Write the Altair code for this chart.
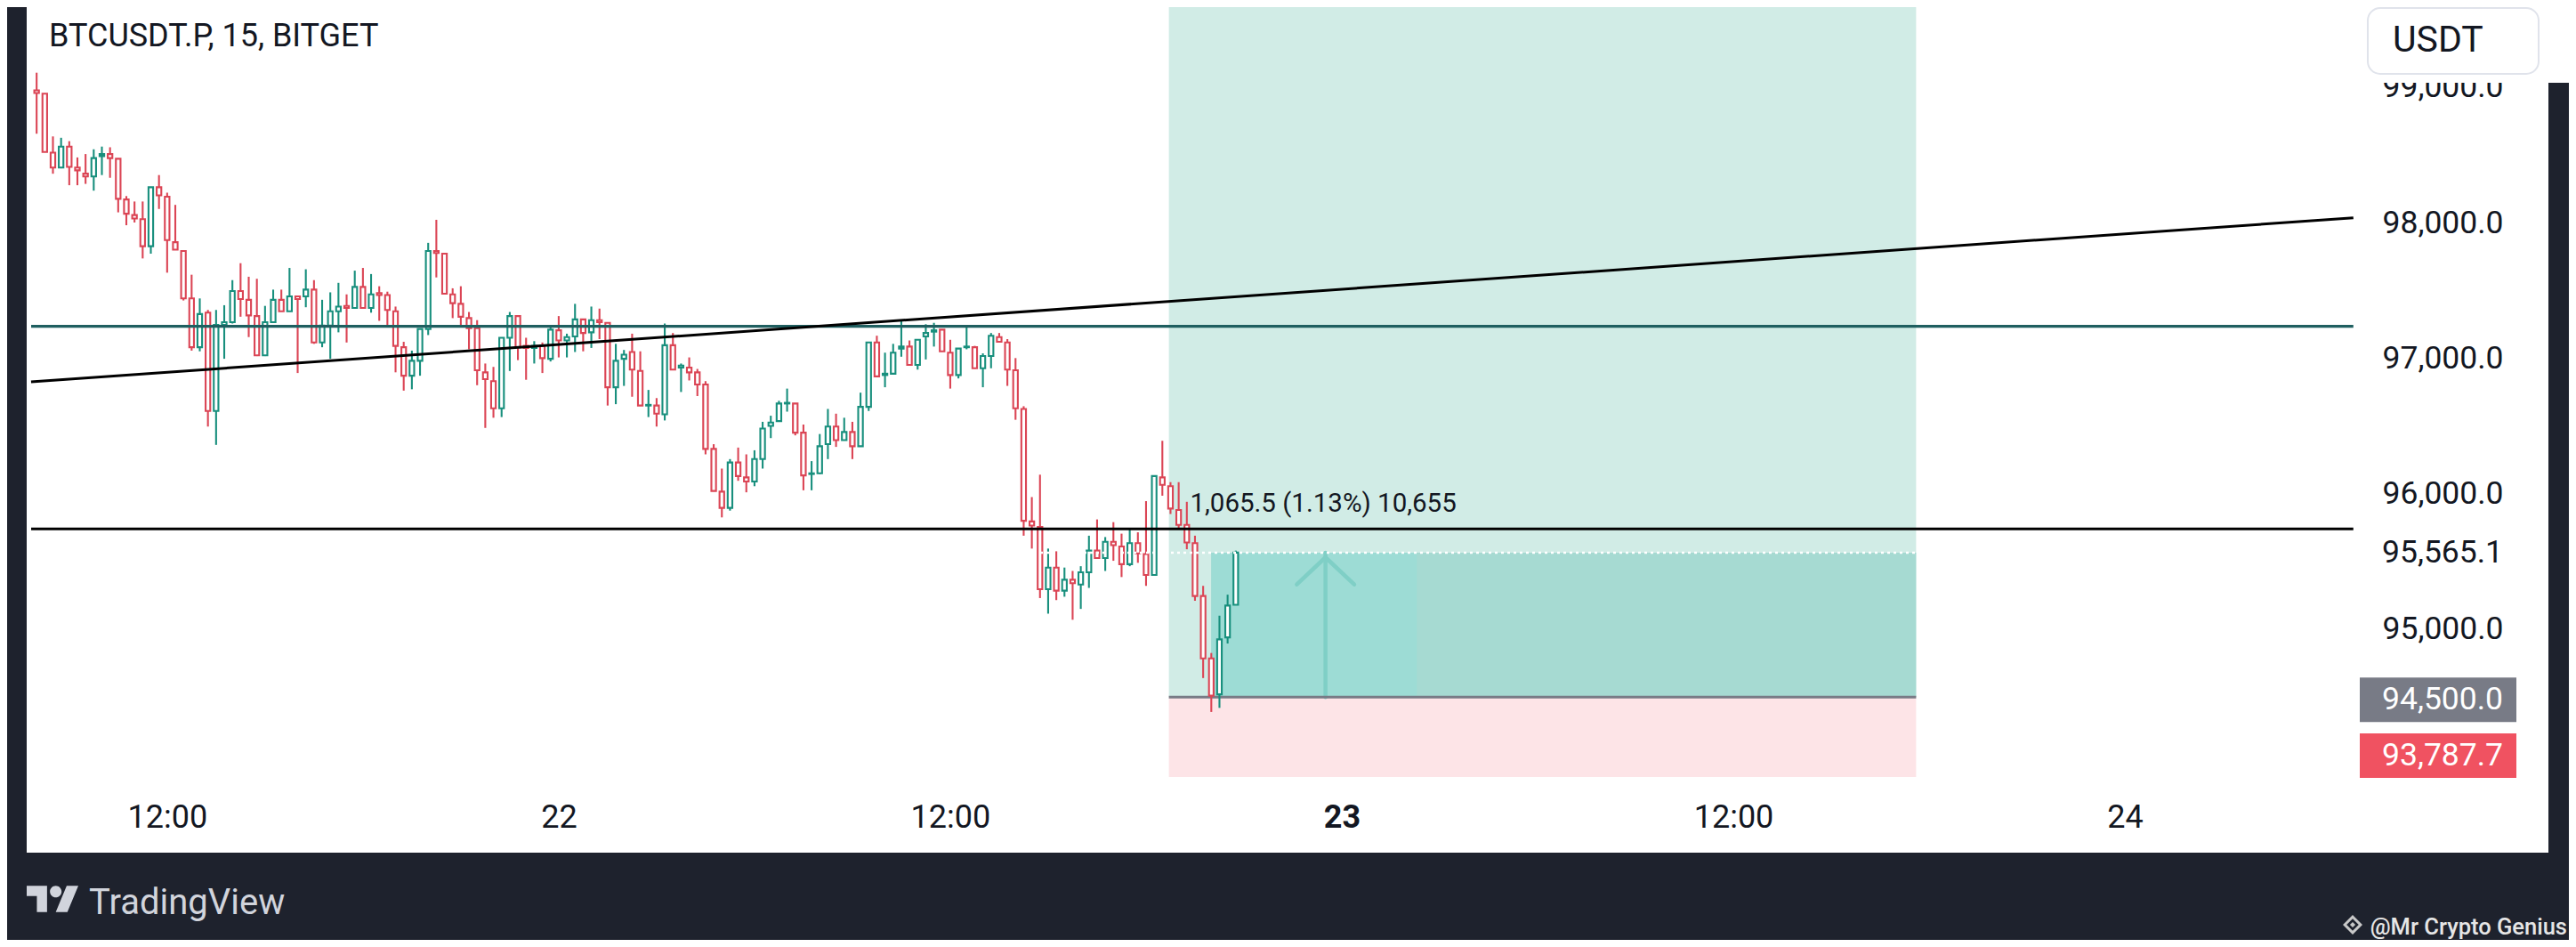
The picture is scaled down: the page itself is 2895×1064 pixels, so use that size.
import altair as alt
import pandas as pd

# ---------------- data ----------------
symbol_title = "BTCUSDT.P, 15, BITGET"
currency_label = "USDT"

# 15-minute candles (OHLC), first bar = 21 Feb 08:00, hours are relative to 22 Feb 00:00
opens = [98975, 98950, 98515, 98405, 98560, 98405, 98360, 98340, 98490, 98505,
         98470, 98170, 98055, 98025, 97825, 98260, 98190, 97855, 97790, 97440,
         97080, 97335, 96610, 97245, 97265, 97495, 97430, 97310, 97020, 97265,
         97430, 97345, 97455, 97455, 97505, 97115, 97240, 97345, 97385, 97370,
         97525, 97370, 97480, 97465, 97345, 97080, 96870, 96980, 97215, 97790,
         97770, 97470, 97400, 97295, 97220, 96895, 96830, 96630, 97150, 97310,
         97090, 97075, 97090, 96995, 97205, 97130, 97160, 97285, 97190, 97280,
         97260, 96785, 96995, 97045, 96905, 96650, 96650, 96585, 97095, 96930,
         96930, 96895, 96805, 96330, 96015, 95895, 96230, 96120, 96090, 96255,
         96500, 96535, 96665, 96665, 96450, 96145, 96150, 96365, 96495, 96395,
         96455, 96350, 96640, 97115, 96875, 96885, 97070, 97085, 96950, 97160,
         97195, 97210, 97040, 96875, 97080, 97080, 96925, 97015, 97155, 97115,
         96910, 96625, 95795, 95755, 95295, 95455, 95285, 95365, 95330, 95420,
         95580, 95525, 95645, 95610, 95480, 95635, 95555, 95400, 96120, 96055,
         95880, 95770, 95635, 95245, 94785, 94520, 94940, 95180]
highs = [99105, 98950, 98635, 98625, 98600, 98480, 98505, 98540, 98560, 98555,
         98470, 98195, 98155, 98155, 98260, 98350, 98220, 98130, 97790, 97615,
         97440, 97355, 97355, 97390, 97575, 97700, 97600, 97585, 97385, 97505,
         97505, 97665, 97455, 97655, 97575, 97430, 97485, 97555, 97470, 97645,
         97665, 97620, 97530, 97490, 97380, 97120, 97055, 97215, 97850, 98020,
         97770, 97515, 97530, 97340, 97280, 96960, 96935, 97150, 97340, 97310,
         97150, 97125, 97115, 97245, 97310, 97180, 97400, 97290, 97380, 97365,
         97260, 97105, 97060, 97180, 97050, 96765, 96705, 97255, 97185, 96960,
         97005, 96920, 96830, 96365, 96185, 96255, 96340, 96290, 96320, 96530,
         96575, 96685, 96775, 96665, 96510, 96240, 96440, 96625, 96590, 96560,
         96530, 96745, 97115, 97165, 97040, 97105, 97275, 97130, 97135, 97250,
         97260, 97210, 97135, 97070, 97235, 97090, 97035, 97185, 97185, 97140,
         97000, 96645, 95975, 96140, 95595, 95575, 95455, 95430, 95465, 95690,
         95810, 95680, 95790, 95705, 95735, 95715, 95945, 96130, 96390, 96085,
         96085, 95940, 95690, 95320, 94825, 95100, 95255, 95580]
lows = [98655, 98520, 98360, 98400, 98275, 98275, 98285, 98235, 98350, 98330,
        98075, 97980, 98000, 97735, 97770, 98100, 97630, 97800, 97425, 97055,
        97050, 96495, 96360, 96995, 97255, 97305, 97155, 97015, 97015, 97265,
        97345, 97345, 96890, 97375, 97105, 97080, 96995, 97190, 97115, 97370,
        97370, 97335, 97275, 97235, 96895, 96760, 96770, 96870, 97170, 97595,
        97475, 97295, 97235, 97065, 96800, 96485, 96560, 96565, 96905, 96985,
        96840, 96960, 96890, 96975, 97005, 97005, 97045, 97050, 97075, 97140,
        96650, 96660, 96795, 96715, 96650, 96565, 96495, 96540, 96915, 96750,
        96835, 96720, 96290, 96020, 95825, 95875, 96095, 96010, 96055, 96185,
        96410, 96535, 96605, 96430, 96025, 96025, 96145, 96255, 96345, 96395,
        96255, 96350, 96610, 96865, 96785, 96885, 97010, 96950, 96915, 96990,
        97085, 97050, 96775, 96850, 97065, 96925, 96785, 96925, 97115, 96795,
        96545, 95690, 95595, 95230, 95115, 95215, 95240, 95070, 95150, 95305,
        95525, 95430, 95505, 95385, 95465, 95490, 95320, 95400, 95985, 95850,
        95745, 95590, 95210, 94640, 94390, 94420, 94895, 95180]
closes = [98955, 98520, 98405, 98560, 98410, 98385, 98340, 98475, 98505, 98475,
          98175, 98065, 98030, 97825, 98260, 98200, 97870, 97800, 97440, 97080,
          97325, 96610, 97245, 97265, 97495, 97435, 97315, 97020, 97265, 97430,
          97345, 97455, 97435, 97505, 97115, 97240, 97345, 97380, 97370, 97525,
          97370, 97470, 97465, 97355, 97090, 96870, 96980, 97215, 97790, 97775,
          97475, 97405, 97305, 97220, 96910, 96845, 96630, 97150, 97310, 97080,
          97075, 97090, 97000, 97210, 97130, 97155, 97285, 97185, 97280, 97265,
          96785, 96980, 97025, 96915, 96650, 96655, 96590, 97095, 96915, 96945,
          96895, 96805, 96330, 96020, 95895, 96230, 96130, 96090, 96255, 96480,
          96525, 96665, 96670, 96450, 96135, 96150, 96350, 96495, 96395, 96455,
          96350, 96640, 97115, 96865, 96885, 97040, 97085, 96950, 97135, 97185,
          97205, 97050, 96875, 97070, 97085, 96925, 97015, 97165, 97120, 96915,
          96630, 95800, 95765, 95295, 95455, 95285, 95365, 95340, 95420, 95580,
          95525, 95645, 95620, 95480, 95635, 95560, 95400, 96130, 96065, 95890,
          95770, 95640, 95245, 94785, 94510, 94925, 95175, 95565.1]
first_bar_hour = -16.0
bar_step_hours = 0.25
bar_hours = [first_bar_hour + bar_step_hours * i for i in range(len(opens))]

# time axis ticks (hours relative to 22 Feb 00:00)
xtick_hours = [-12, 0, 12, 24, 36, 48]
xtick_labels = ["12:00", "22", "12:00", "23", "12:00", "24"]
bold_tick_hour = 24
ytick_prices = [95000, 96000, 97000, 98000, 99000]

# drawings
support_level = 97235.0      # dark teal horizontal
resist_level = 95740.0       # black horizontal
trend_hours = [-16.17, 55.0]
trend_prices = [96825.0, 98035.0]

# long position tool
pos_start_hour = 18.7
pos_end_hour = 41.6
pos_fill_hour = 20.0
pos_highlight_end = 26.3
entry_price = 94500.0
stop_price = 93787.7
last_price = 95565.1
pnl_label = "1,065.5 (1.13%) 10,655"
pnl_hour = 19.35
pnl_price = 95866.0
arrow_hour = 23.5
arrow_head_hours = [22.62, 23.5, 24.38]
arrow_head_prices = [95330.0, 95530.0, 95330.0]

footer_brand = "TradingView"
watermark = "@Mr Crypto Genius"

# ---------------- layout / styles ----------------
W, H = 2834, 950
X_MIN, X_MAX = -16.168, 60.842
Y_MIN, Y_MAX = 93352.2, 99588.7
PANE_RIGHT = 55.0           # right edge of the price pane (hours)
PANE_BOTTOM_PX = 865        # bottom edge of the price pane (px)
AXIS_LABEL_X = 2647

BG = "#1e222d"
GREEN = "#188f7d"
RED = "#db4555"
TXT = "#131722"
FONT = "Roboto"

XS = alt.Scale(domain=[X_MIN, X_MAX], nice=False, zero=False)
YS = alt.Scale(domain=[Y_MIN, Y_MAX], nice=False, zero=False)


def label_expr(vals, labs):
    s = ""
    for v, l in zip(vals, labs):
        s += f"datum.value == {v} ? '{l}' : "
    return s + "''"


x_axis = alt.Axis(values=xtick_hours, labelExpr=label_expr(xtick_hours, xtick_labels),
                  orient="bottom", offset=-40, labelBaseline="middle", labelPadding=0,
                  ticks=False, tickSize=0, domain=False, grid=False, labelFlush=False,
                  labelOverlap=False, labelFont=FONT, labelFontSize=36, labelColor=TXT,
                  labelFontWeight={"condition": {"test": f"datum.value == {bold_tick_hour}", "value": "bold"},
                                   "value": "normal"},
                  title="")
y_axis = alt.Axis(values=ytick_prices, format=",.1f", orient="right", offset=-187,
                  labelPadding=0, ticks=False, tickSize=0, domain=False, grid=False,
                  labelOverlap=False, labelFont=FONT, labelFontSize=35.5, labelColor=TXT,
                  labelAlign="left", labelBaseline="middle", labelBound=False, title="")


def qx(f):
    return alt.X(f, type="quantitative", scale=XS, axis=x_axis)


def qy(f):
    return alt.Y(f, type="quantitative", scale=YS, axis=y_axis)


# ---------------- position tool ----------------
pos = pd.DataFrame({"start": [pos_start_hour], "end": [pos_end_hour], "fill": [pos_fill_hour],
                    "hl": [pos_highlight_end], "entry": [entry_price], "cur": [last_price]})
target_zone = alt.Chart(pos).mark_rect(color="#d1ece6").encode(
    x=qx("start"), x2="end", y=qy("entry"), y2=alt.value(0))
stop_zone = alt.Chart(pos).mark_rect(color="#fde4e7").encode(
    x=qx("start"), x2="end", y=qy("entry"), y2=alt.value(PANE_BOTTOM_PX))
open_band = alt.Chart(pos).mark_rect(color="#a6dad2").encode(
    x=qx("fill"), x2="end", y=qy("entry"), y2="cur")
open_hl = alt.Chart(pos).mark_rect(color="#9ddcd5").encode(
    x=qx("fill"), x2="hl", y=qy("entry"), y2="cur")
entry_line = alt.Chart(pos).mark_rule(color="#787b86", strokeWidth=3).encode(
    x=qx("start"), x2="end", y=qy("entry"))

arrow = pd.DataFrame({
    "h": [arrow_hour, arrow_hour] + arrow_head_hours,
    "p": [entry_price, last_price] + arrow_head_prices,
    "part": ["shaft", "shaft", "head", "head", "head"],
    "k": [0, 1, 0, 1, 2],
})
arrow_layer = alt.Chart(arrow).mark_line(color="#7fcfc6", strokeWidth=4.5, strokeCap="round",
                                         strokeJoin="round").encode(
    x=qx("h"), y=qy("p"), detail="part:N", order="k:Q")

# ---------------- candles ----------------
candles = pd.DataFrame({"h": bar_hours, "o": opens, "hi": highs, "lo": lows, "c": closes})
candles["dir"] = ["up" if c >= o else "down" for o, c in zip(opens, closes)]
dir_scale = alt.Scale(domain=["up", "down"], range=[GREEN, RED])

wicks = alt.Chart(candles).mark_rule(strokeWidth=2.1).encode(
    x=qx("h"), y=qy("lo"), y2="hi:Q",
    color=alt.Color("dir:N", scale=dir_scale, legend=None),
)
bodies = alt.Chart(candles).mark_bar(size=5.2, fill="white", fillOpacity=1, strokeWidth=2.1).encode(
    x=qx("h"), y=qy("o"), y2="c:Q",
    stroke=alt.Stroke("dir:N", scale=dir_scale, legend=None),
)

# ---------------- lines ----------------
levels = pd.DataFrame({"x": [X_MIN, X_MIN], "x2": [PANE_RIGHT, PANE_RIGHT],
                       "p": [support_level, resist_level], "col": ["#1f5f60", "#000000"]})
level_rules = alt.Chart(levels).mark_rule(strokeWidth=3.2).encode(
    x=qx("x"), x2="x2", y=qy("p"), color=alt.Color("col:N", scale=None))

trend = pd.DataFrame({"h": trend_hours, "p": trend_prices})
trend_line = alt.Chart(trend).mark_line(color="#000000", strokeWidth=3).encode(x=qx("h"), y=qy("p"))

price_line_df = pd.DataFrame({"x": [X_MIN], "x2": [PANE_RIGHT], "p": [last_price]})
price_line = alt.Chart(price_line_df).mark_rule(color="white", strokeWidth=2.5, strokeDash=[3, 4]).encode(
    x=qx("x"), x2="x2", y=qy("p"))

# ---------------- texts ----------------
pnl = alt.Chart(pd.DataFrame({"h": [pnl_hour], "p": [pnl_price], "t": [pnl_label]})).mark_text(
    align="left", baseline="alphabetic", font=FONT, fontSize=29.5, color=TXT).encode(
    x=qx("h"), y=qy("p"), text="t:N")

title = alt.Chart(pd.DataFrame({"t": [symbol_title]})).mark_text(
    align="left", baseline="alphabetic", font=FONT, fontSize=36, color=TXT).encode(
    x=alt.value(25), y=alt.value(44), text="t:N")

last_lbl = alt.Chart(pd.DataFrame({"p": [last_price], "t": [f"{last_price:,.1f}"]})).mark_text(
    align="left", baseline="middle", font=FONT, fontSize=35.5, color=TXT).encode(
    x=alt.value(AXIS_LABEL_X), y=qy("p"), text="t:N")

BOX_PATH = "M-1 -0.284 L1 -0.284 L1 0.284 L-1 0.284 Z"
entry_box = alt.Chart(pd.DataFrame({"p": [entry_price]})).mark_point(
    shape=BOX_PATH, size=176 ** 2, filled=True, opacity=1, color="#787b86", yOffset=3).encode(
    x=alt.value(2710), y=qy("p"))
entry_txt = alt.Chart(pd.DataFrame({"p": [entry_price], "t": [f"{entry_price:,.1f}"]})).mark_text(
    align="left", baseline="middle", font=FONT, fontSize=35.5, color="white", yOffset=3).encode(
    x=alt.value(AXIS_LABEL_X), y=qy("p"), text="t:N")
# stop price lies below the pane, so its label is pinned at the pane bottom
stop_box = alt.Chart(pd.DataFrame({"t": [f"{stop_price:,.1f}"]})).mark_point(
    shape=BOX_PATH, size=176 ** 2, filled=True, opacity=1, color="#f05261").encode(
    x=alt.value(2710), y=alt.value(PANE_BOTTOM_PX - 24))
stop_txt = alt.Chart(pd.DataFrame({"t": [f"{stop_price:,.1f}"]})).mark_text(
    align="left", baseline="middle", font=FONT, fontSize=35.5, color="white").encode(
    x=alt.value(AXIS_LABEL_X), y=alt.value(PANE_BOTTOM_PX - 24), text="t:N")

# the currency button area masks the top of the price scale
usdt_mask = alt.Chart(pd.DataFrame({"t": [currency_label]})).mark_rect(fill="white").encode(
    x=alt.value(2622), x2=alt.value(2857), y=alt.value(0), y2=alt.value(85))
usdt_box = alt.Chart(pd.DataFrame({"t": [currency_label]})).mark_rect(
    fill="white", stroke="#e0e3eb", strokeWidth=2, cornerRadius=14).encode(
    x=alt.value(2631), x2=alt.value(2823), y=alt.value(1), y2=alt.value(75))
usdt_txt = alt.Chart(pd.DataFrame({"t": [currency_label]})).mark_text(
    align="left", baseline="alphabetic", font=FONT, fontSize=41, color=TXT).encode(
    x=alt.value(2659), y=alt.value(50), text="t:N")

# ---------------- footer ----------------
TV_LOGO = ("M-0.208 0.5 L-0.597 0.5 L-0.597 -0.111 L-0.986 -0.111 L-0.986 -0.5 L-0.208 -0.5 Z "
           "M0.569 0.5 L0.125 0.5 L0.542 -0.5 L0.986 -0.5 Z "
           "M-0.097 -0.278 A0.222 0.222 0 1 0 0.347 -0.278 A0.222 0.222 0 1 0 -0.097 -0.278 Z")
tv_logo = alt.Chart(pd.DataFrame({"t": [footer_brand]})).mark_point(
    shape=TV_LOGO, size=3460, filled=True, opacity=1, color="#d1d4dc", strokeWidth=0).encode(
    x=alt.value(29), y=alt.value(1002))
tv_txt = alt.Chart(pd.DataFrame({"t": [footer_brand]})).mark_text(
    align="left", baseline="alphabetic", font=FONT, fontSize=40, color="#d1d4dc").encode(
    x=alt.value(70), y=alt.value(1019), text="t:N")

BNB_LOGO = ("M0 -1 L1 0 L0 1 L-1 0 Z M0 -0.62 L-0.62 0 L0 0.62 L0.62 0 Z "
            "M0 -0.28 L0.28 0 L0 0.28 L-0.28 0 Z")
bnb_logo = alt.Chart(pd.DataFrame({"t": [watermark]})).mark_point(
    shape=BNB_LOGO, size=484, filled=True, opacity=1, color="#c8c8c8", strokeWidth=0).encode(
    x=alt.value(2614), y=alt.value(1031))
wm_txt = alt.Chart(pd.DataFrame({"t": [watermark]})).mark_text(
    align="right", baseline="alphabetic", font=FONT, fontSize=25.5, fontWeight=500,
    color="#e6e6e6").encode(
    x=alt.value(2855), y=alt.value(1042), text="t:N")

chart = alt.layer(
    target_zone, stop_zone, open_band, open_hl, arrow_layer, entry_line,
    wicks, bodies,
    level_rules, trend_line, price_line,
    pnl, title, last_lbl, entry_box, entry_txt, stop_box, stop_txt,
    usdt_mask, usdt_box, usdt_txt,
    tv_logo, tv_txt, bnb_logo, wm_txt,
).properties(
    width=W, height=H,
    padding={"left": 22, "top": 0, "right": 23, "bottom": 98},
    autosize=alt.AutoSizeParams(type="none"),
).configure(background=BG).configure_view(fill="white", strokeWidth=0)

chart.save("out.html", embed_options={"renderer": "svg", "actions": False})
